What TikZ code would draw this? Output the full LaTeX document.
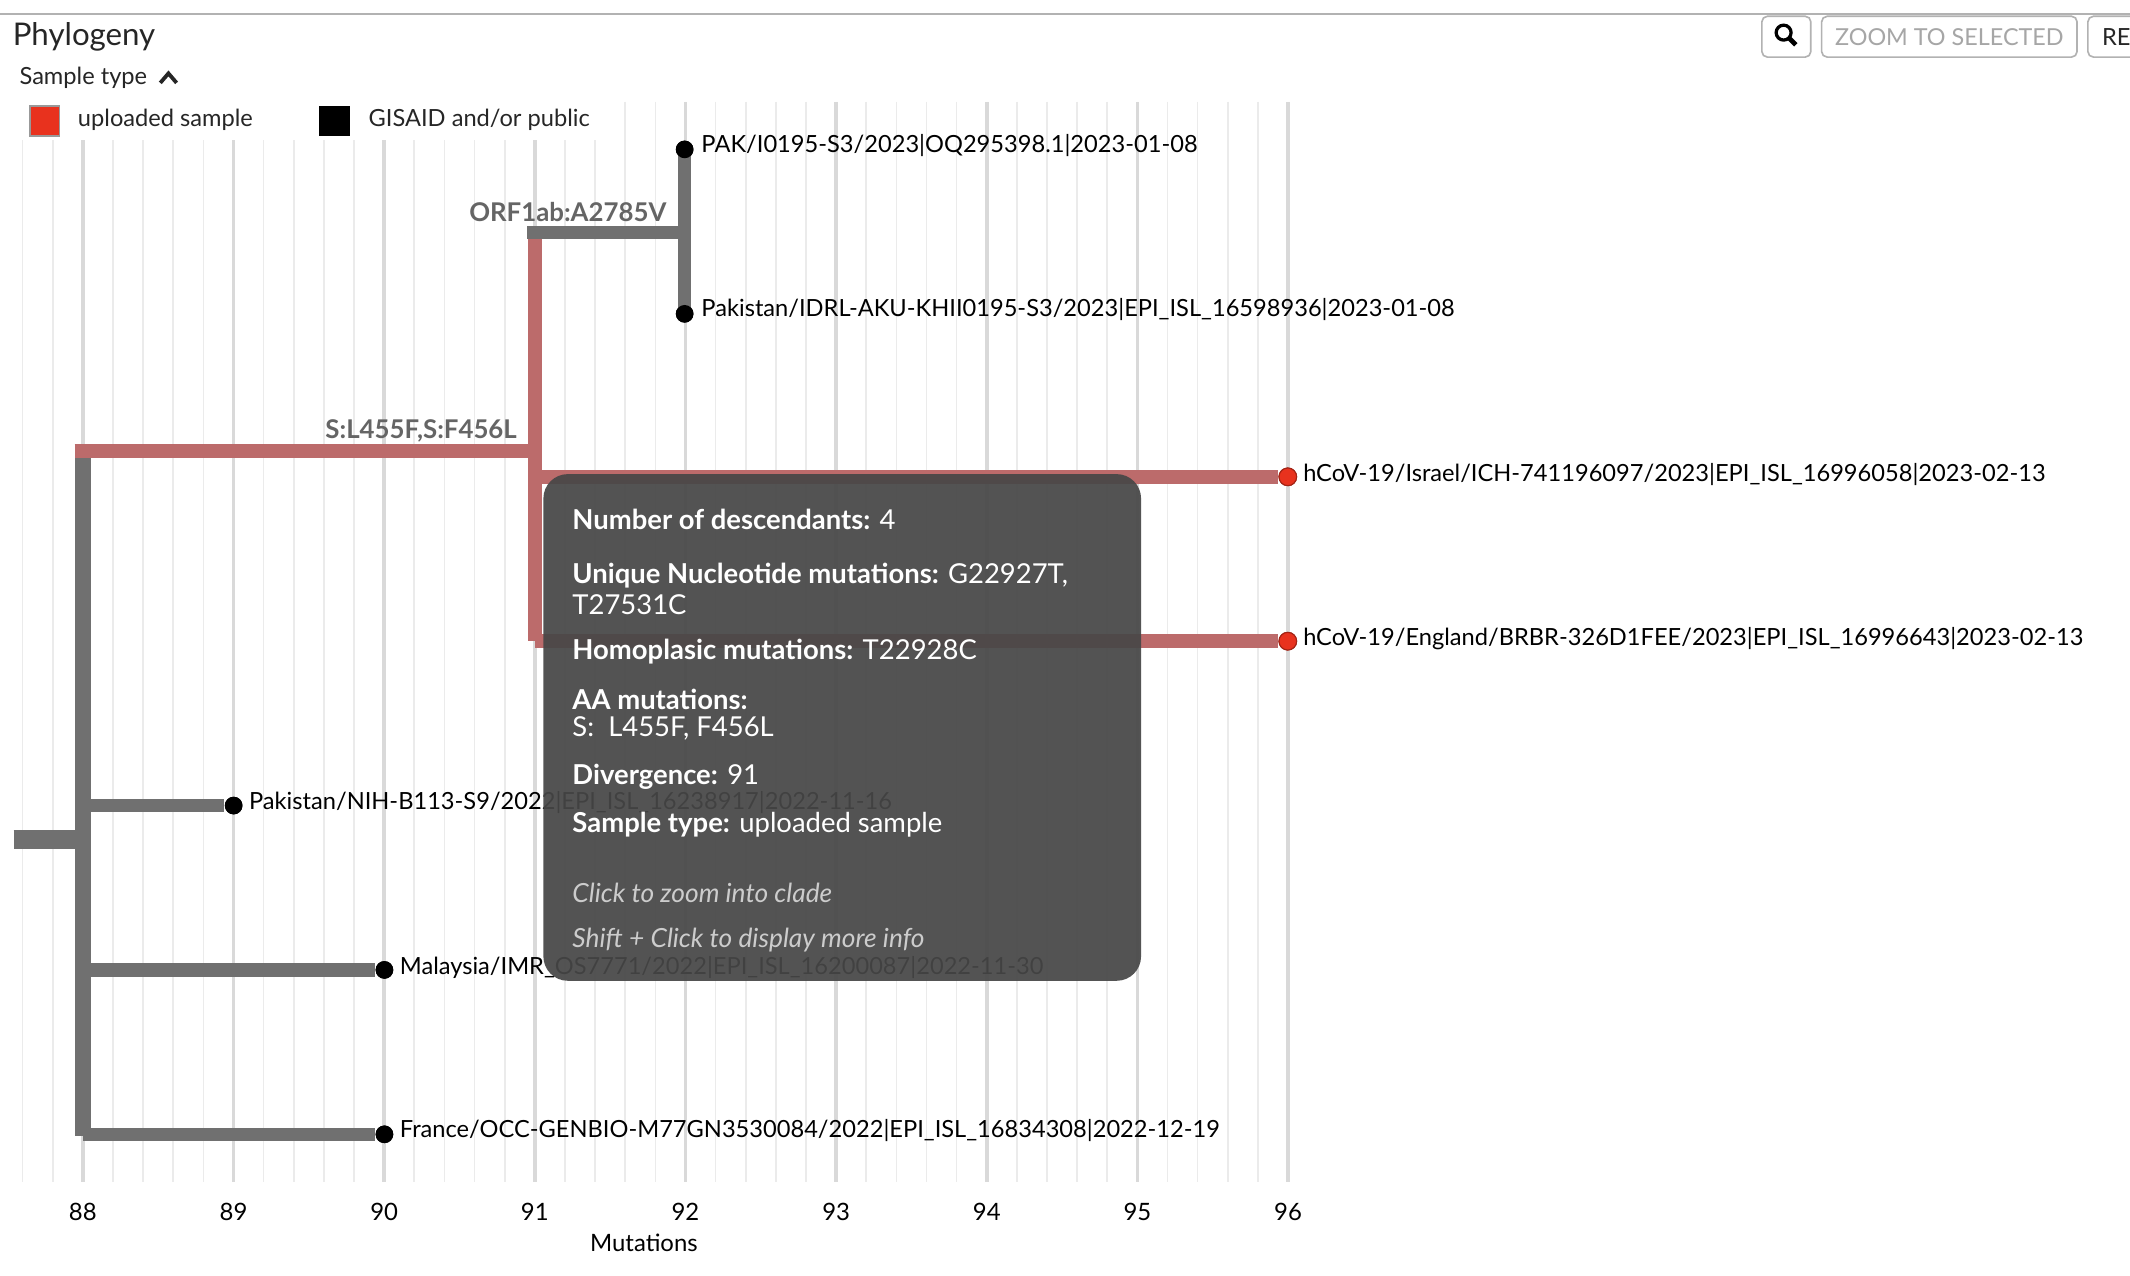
\documentclass[tikz,border=0pt]{standalone}
\usepackage{fontspec}
\setmainfont{Lato}
\begin{document}
\begin{tikzpicture}[x=0.5pt,y=-0.5pt]
\definecolor{br}{HTML}{707070}
\definecolor{rd}{HTML}{BC6B6B}
\definecolor{tip}{HTML}{E8321E}
\tikzset{
  branch/.style={line width=5pt,br},
  rbranch/.style={line width=5pt,rd},
  tiplab/.style={anchor=west,inner sep=0pt,font=\fontsize{8.7}{10}\selectfont},
  dotk/.style={circle,fill=black,inner sep=0pt,minimum size=6.5pt},
  dotr/.style={circle,fill=tip,draw=tip!70!black,line width=0.4pt,inner sep=0pt,minimum size=6.5pt},
  muta/.style={font=\bfseries\fontsize{9.5}{11}\selectfont,text=br!90!black,inner sep=0pt},
  tt/.style={anchor=west,inner sep=0pt,text=white,font=\fontsize{10.1}{10.5}\selectfont,align=left},
  btn/.style={draw=black!30,rounded corners=2pt,line width=0.6pt},
  ax/.style={font=\fontsize{8.8}{10}\selectfont,inner sep=0pt},
  leg/.style={anchor=west,inner sep=0pt,font=\fontsize{8.7}{10}\selectfont,text=black!85}
}
\useasboundingbox (0,0) rectangle (1568,939);
\fill[white] (0,0) rectangle (1568,939);
\draw[black!30,line width=0.8pt] (0,10) -- (1568,10);
\node[anchor=west,inner sep=0pt,font=\fontsize{11.5}{13}\selectfont,text=black!85] (title) at (9,27) {Phylogeny};
\node[leg] (stype) at (14,57) {Sample type};
\draw[line width=1.4pt,black!85] (118,61) -- (124,54) -- (130,61);
% buttons
\draw[btn] (1297,12) rectangle (1333,42);
\draw[line width=1.2pt] (1313,24) circle (5.5);
\draw[line width=1.8pt] (1317,28) -- (1322,33);
\draw[btn] (1341,12) rectangle (1529,42);
\node[font=\fontsize{8.6}{10}\selectfont,text=black!35] (zs) at (1435,27) {ZOOM TO SELECTED};
\draw[btn] (1537,12) rectangle (1580,42);
\node[leg] (re) at (1547,27) {RE};
% grid
\foreach \i in {-2,...,40} \draw[black!8,line width=0.6pt] ({61+\i*22.18},75) -- ({61+\i*22.18},870);
\foreach \t [count=\k from 0] in {88,...,96} {
  \draw[black!15,line width=1.4pt] ({61+\k*110.9},75) -- ({61+\k*110.9},870);
  \node[ax] at ({61+\k*110.9},892) {\t};
}
\node[ax] (mut) at (474,915) {Mutations};
% legend (over grid, white background)
\fill[white] (14,74) rectangle (445,103);
\fill[tip] (22,78) rectangle (44,100);
\draw[black!40,line width=0.5pt] (22,78) rectangle (44,100);
\node[leg] (l1) at (57,88) {uploaded sample};
\fill[black] (235,78) rectangle (258,100);
\node[leg] (l2) at (271,88) {GISAID and/or public};
% tree coordinates
\coordinate (root) at (10,618);
\coordinate (n0) at (61,618);
\coordinate (n0t) at (61,332);
\coordinate (n0b) at (61,836);
\coordinate (n1) at (394,332);
\coordinate (n1b) at (394,472);
\coordinate (n1t) at (394,171);
\coordinate (n2) at (504,171);
\coordinate (n2t) at (504,110);
\coordinate (n2b) at (504,231);
\node[dotk] (t1) at (504,110) {};
\node[dotk] (t2) at (504,231) {};
\node[dotr] (t3) at (948,351) {};
\node[dotr] (t4) at (948,472) {};
\node[dotk] (t5) at (172,593) {};
\node[dotk] (t6) at (283,714) {};
\node[dotk] (t7) at (283,835) {};
\draw[branch,line width=7pt] (root) -- (n0);
\draw[branch,line width=6pt] (n0t) -- (n0b);
\draw[branch] (n0 |- t5) -- (t5);
\draw[branch] (n0 |- t6) -- (t6);
\draw[branch] (n0 |- t7) -- (t7);
\draw[rbranch] ([xshift=-3pt]n0t) -- (n1);
\draw[rbranch] (n1t) -- (n1b);
\draw[branch] ([xshift=-3pt]n1t) -- (n2);
\draw[branch] (n2t) -- (n2b);
\draw[rbranch] (n1 |- t3) -- (t3);
\draw[rbranch] (n1b) -- (t4);
\node[dotk] at (t1) {};
\node[dotk] at (t2) {};
\node[dotr] at (t3) {};
\node[dotr] at (t4) {};
\node[dotk] at (t5) {};
\node[dotk] at (t6) {};
\node[dotk] at (t7) {};
\node[muta] (m1) at (418,156) {ORF1ab:A2785V};
\node[muta] (m2) at (310,317) {S:L455F,S:F456L};
\node[tiplab] at (516,107) {PAK/I0195-S3/2023|OQ295398.1|2023-01-08};
\node[tiplab] at (516,228) {Pakistan/IDRL-AKU-KHII0195-S3/2023|EPI\_ISL\_16598936|2023-01-08};
\node[tiplab] at (959,349) {hCoV-19/Israel/ICH-741196097/2023|EPI\_ISL\_16996058|2023-02-13};
\node[tiplab] at (959,470) {hCoV-19/England/BRBR-326D1FEE/2023|EPI\_ISL\_16996643|2023-02-13};
\node[tiplab] at (183,591) {Pakistan/NIH-B113-S9/2022|EPI\_ISL\_16238917|2022-11-16};
\node[tiplab] at (294,712) {Malaysia/IMR\_OS7771/2022|EPI\_ISL\_16200087|2022-11-30};
\node[tiplab] at (294,832) {France/OCC-GENBIO-M77GN3530084/2022|EPI\_ISL\_16834308|2022-12-19};
% tooltip
\fill[black!72,opacity=0.93,rounded corners=9pt] (400,349) rectangle (840,722);
\node[tt] at (421,382) {\textbf{Number of descendants:} 4};
\node[tt] at (421,424) {\textbf{Unique Nucleotide mutations:} G22927T,};
\node[tt] at (421,445) {T27531C};
\node[tt] at (421,480) {\textbf{Homoplasic mutations:} T22928C};
\node[tt] at (421,515) {\textbf{AA mutations:}};
\node[tt] at (421,536) {S:\ \ L455F, F456L};
\node[tt] at (421,572) {\textbf{Divergence:} 91};
\node[tt] at (421,607) {\textbf{Sample type:} uploaded sample};
\node[tt,text=white!80!black,font=\itshape\fontsize{9.7}{11}\selectfont] at (421,657) {Click to zoom into clade};
\node[tt,text=white!80!black,font=\itshape\fontsize{9.7}{11}\selectfont] at (421,692) {Shift + Click to display more info};
\end{tikzpicture}
\end{document}
